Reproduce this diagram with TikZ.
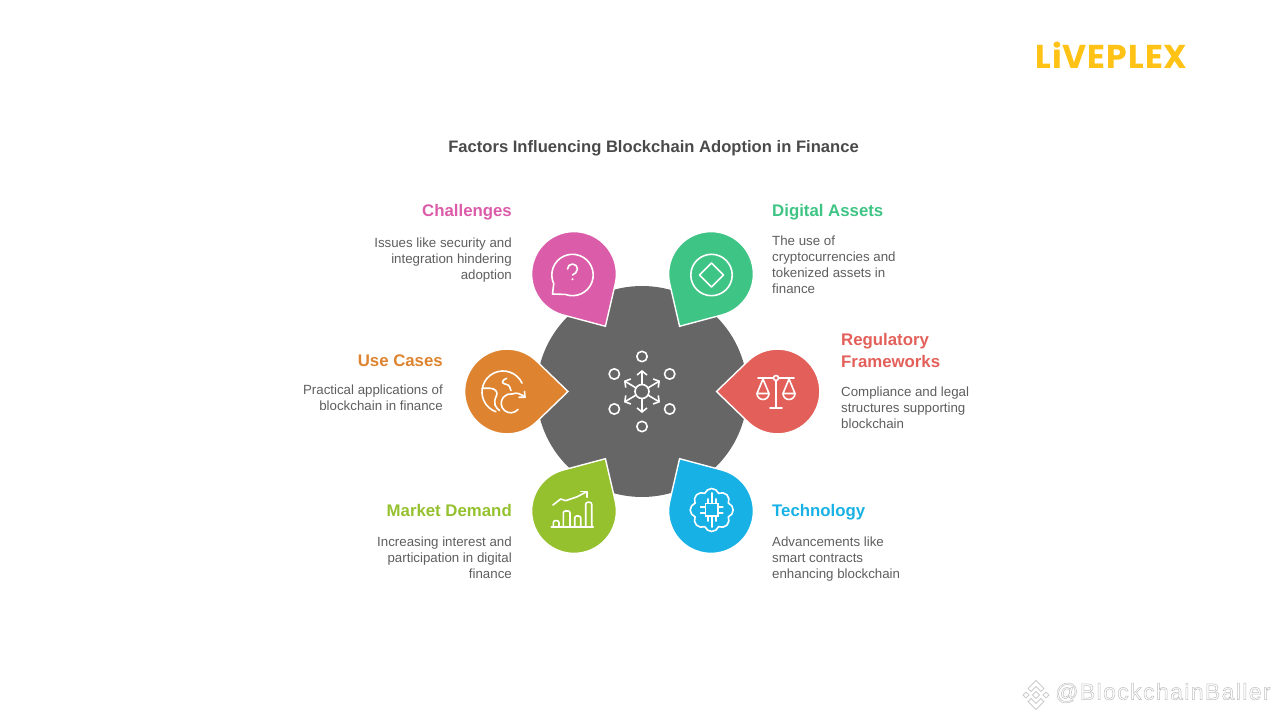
\documentclass[tikz,border=0pt]{standalone}
\usepackage{fontspec}
\setmainfont{Liberation Sans}
\newfontfamily\logofont[LetterSpace=3]{Poppins}
\newfontfamily\markfont[LetterSpace=6]{Liberation Sans}
\usepackage{xcolor}
\usepackage{tikz}
\usetikzlibrary{arrows.meta,positioning,shapes.symbols}
\definecolor{HubGray}{HTML}{666666}
\definecolor{TitleGray}{HTML}{4A4A4A}
\definecolor{BodyGray}{HTML}{5E5E5E}
\definecolor{ChalPink}{HTML}{DB5CA8}
\definecolor{AssetGreen}{HTML}{3EC484}
\definecolor{RegRed}{HTML}{E3605A}
\definecolor{TechBlue}{HTML}{17B1E5}
\definecolor{DemandLime}{HTML}{95C12F}
\definecolor{UseOrange}{HTML}{DE8430}
\definecolor{LogoYellow}{HTML}{FFC215}
\newcommand{\dropshape}[3]{\draw[white, line width=1.4pt, fill=#3, shift={#1}, rotate=#2]
  (46.5:42.4) -- (61,0) -- (-46.5:42.4) arc (-46.5:-313.5:42.4) -- cycle;}

\begin{document}
\begin{tikzpicture}[
    x=1pt, y=1pt,
    hdr/.style={font=\fontsize{16.8}{21.5}\selectfont\bfseries, inner sep=0pt},
    desc/.style={font=\fontsize{13.3}{16}\selectfont, text=BodyGray, inner sep=0pt},
    icon/.style={white, line width=1.6pt, line cap=round, line join=round},
    spoke/.style={icon, -{Straight Barb[length=4pt,width=10pt]}},
    markline/.style={draw=gray!40, fill=white, line width=0.8pt, line join=round},
  ]
    \useasboundingbox (0,0) rectangle (1280,720);

    % ---- title and logo ----
    \node[font=\fontsize{16.6}{20}\selectfont\bfseries, text=TitleGray, inner sep=0pt] (title) at (653.5,571.5)
      {Factors Influencing Blockchain Adoption in Finance};
    \node[font=\logofont\fontsize{33}{33}\selectfont\bfseries, text=LogoYellow, inner sep=0pt] (logo) at (1111.5,665) {LiVEPLEX};

    % ---- hub ----
    \node[circle, fill=HubGray, minimum size=211pt, inner sep=0pt] (hub) at (642,328.5) {};

    % ---- drops ----
    \dropshape{(574,446)}{-59}{ChalPink}
    \dropshape{(711,446)}{-121}{AssetGreen}
    \dropshape{(777.5,328.5)}{180}{RegRed}
    \dropshape{(711,209)}{121}{TechBlue}
    \dropshape{(574,209)}{59}{DemandLime}
    \dropshape{(507,328.5)}{0}{UseOrange}

    % ---- hub icon ----
    \begin{scope}[shift={(hub.center)}]
      \draw[icon] (0,0) circle (7);
      \draw[icon] (0,35) circle (5.2);
      \draw[icon] (27.7,17.5) circle (5.2);
      \draw[icon] (-27.7,17.5) circle (5.2);
      \draw[icon] (-27.7,-17.5) circle (5.2);
      \draw[icon] (0,-35) circle (5.2);
      \draw[icon] (27.7,-17.5) circle (5.2);
      \draw[spoke] (90:7) -- (90:21.5);
      \draw[spoke] (31:7) -- (31:21);
      \draw[spoke] (149:7) -- (149:21);
      \draw[spoke] (211:7) -- (211:21);
      \draw[spoke] (270:7) -- (270:21.5);
      \draw[spoke] (329:7) -- (329:21);
    \end{scope}

    % ---- challenges icon ----
    \begin{scope}[shift={(572.5,445)}]
      \draw[icon] (250:20.7) arc (250:565:20.7) -- (-20,-19) -- cycle;
      \draw[icon] (-5,6) arc (180:-50:5) -- (0,0);
      \fill[white] (0,-4.2) circle (1.1);
    \end{scope}

    % ---- digital assets icon ----
    \begin{scope}[shift={(711.5,445)}]
      \draw[icon] (0,0) circle (20.7);
      \draw[icon] (0,12) -- (12,0) -- (0,-12) -- (-12,0) -- cycle;
    \end{scope}

    % ---- regulatory icon ----
    \begin{scope}[shift={(776,328)}]
      \draw[icon] (0,11.5) -- (0,-16);
      \draw[icon] (-6,-16) -- (6,-16);
      \draw[icon] (-18,14) -- (-2.5,14);
      \draw[icon] (2.5,14) -- (18,14);
      \draw[icon] (0,14) circle (2.5);
      \draw[icon] (-13,13) -- (-19,-1.5) -- (-7,-1.5) -- cycle;
      \draw[icon] (-19,-1.5) arc (180:360:6);
      \draw[icon] (13,13) -- (7,-1.5) -- (19,-1.5) -- cycle;
      \draw[icon] (7,-1.5) arc (180:360:6);
    \end{scope}

    % ---- technology icon ----
    \node[cloud, cloud puffs=8, cloud puff arc=140, aspect=1, shape border rotate=22.5, draw=white, line width=1.6pt,
      minimum width=43pt, minimum height=43pt, inner sep=0pt] (brain) at (711.7,210) {};
    \node[rectangle, draw=white, line width=1.6pt, minimum size=12.6pt, inner sep=0pt] (chip) at (brain.center) {};
    \draw[icon] (chip.north) -- ++(0,10);
    \draw[icon] ([xshift=-4pt]chip.north) -- ++(0,4);
    \draw[icon] ([xshift=4pt]chip.north) -- ++(0,4);
    \draw[icon] (chip.south) -- ++(0,-10);
    \draw[icon] ([xshift=-4pt]chip.south) -- ++(0,-4);
    \draw[icon] ([xshift=4pt]chip.south) -- ++(0,-4);
    \draw[icon] ([yshift=3pt]chip.west) -- ++(-4,0);
    \draw[icon] ([yshift=-3pt]chip.west) -- ++(-4,0);
    \draw[icon] ([yshift=3pt]chip.east) -- ++(4,0);
    \draw[icon] ([yshift=-3pt]chip.east) -- ++(4,0);

    % ---- market demand icon ----
    \begin{scope}[shift={(574,205)}, rounded corners=2pt]
      \draw[icon] (-22.7,-12.3) -- (19.3,-12.3);
      \draw[icon] (-20.7,-12.3) -- (-20.7,-5.7) -- (-15,-5.7) -- (-15,-12.3);
      \draw[icon] (-10.7,-12.3) -- (-10.7,4) -- (-4,4) -- (-4,-12.3);
      \draw[icon] (0.7,-12.3) -- (0.7,-1) -- (6.7,-1) -- (6.7,-12.3);
      \draw[icon] (11.7,-12.3) -- (11.7,12.7) -- (17.7,12.7) -- (17.7,-12.3);
    \end{scope}
    \begin{scope}[shift={(574,205)}]
      \draw[icon] (-21,10) -- (-13.3,16) -- (-8.3,14.3) -- (3.3,18.3) -- (12.7,23.3);
      \draw[icon] (6.7,23.3) -- (12.7,23.3) -- (12.7,17.7);
    \end{scope}

    % ---- use cases icon ----
    \begin{scope}[shift={(503,328)}]
      \draw[icon] (25:21) arc (25:250:21);
      \draw[icon] (7.7,-11.3) ++(-40:9.5) arc (-40:-280:9.5) .. controls (14,0) and (18,-2) .. (22,-5.3);
      \draw[icon] (16,-5.3) -- (22,-5.3) -- (21.5,0.5);
      \draw[icon] (-20.7,3.7) -- (-13,3.7) .. controls (-8,3.7) and (-5,0) .. (-6.3,-3) .. controls (-8,-7) and (-9,-10) .. (-8,-13) .. controls (-7,-16) and (-5,-17) .. (-3.5,-18.5);
      \draw[icon] (3.7,13.7) .. controls (-1,12) and (-2,8.7) .. (2,8) .. controls (7,7.5) and (7,4) .. (8,1.5);
    \end{scope}

    % ---- labels ----
    \node[hdr, text=ChalPink, anchor=east] (chalhdr) at (512,507.5) {Challenges};
    \node[desc, align=right, anchor=east] (chaltxt) at (512,459.5) {Issues like security and\\integration hindering\\adoption};
    \node[hdr, text=AssetGreen, anchor=west] (assethdr) at (772,507.5) {Digital Assets};
    \node[desc, align=left, anchor=west] (assettxt) at (772,455.5) {The use of\\cryptocurrencies and\\tokenized assets in\\finance};
    \node[hdr, text=RegRed, align=left, anchor=west] (reghdr) at (841,369.5) {Regulatory\\Frameworks};
    \node[desc, align=left, anchor=west] (regtxt) at (841,312.5) {Compliance and legal\\structures supporting\\blockchain};
    \node[hdr, text=UseOrange, anchor=east] (usehdr) at (443,359.5) {Use Cases};
    \node[desc, align=right, anchor=east] (usetxt) at (443,322.5) {Practical applications of\\blockchain in finance};
    \node[hdr, text=DemandLime, anchor=east] (demandhdr) at (512,210) {Market Demand};
    \node[desc, align=right, anchor=east] (demandtxt) at (512,162.5) {Increasing interest and\\participation in digital\\finance};
    \node[hdr, text=TechBlue, anchor=west] (techhdr) at (772,208) {Technology};
    \node[desc, align=left, anchor=west] (techtxt) at (772,160.5) {Advancements like\\smart contracts\\enhancing blockchain};

    % ---- watermark ----
    \begin{scope}[shift={(1036,25)}]
      \draw[markline] (0,14.5) -- (8,6.5) -- (5,3.5) -- (0,8.5) -- (-5,3.5) -- (-8,6.5) -- cycle;
      \draw[markline] (0,-14.5) -- (8,-6.5) -- (5,-3.5) -- (0,-8.5) -- (-5,-3.5) -- (-8,-6.5) -- cycle;
      \draw[markline] (-13,0) -- (-10,3) -- (-7,0) -- (-10,-3) -- cycle;
      \draw[markline] (13,0) -- (10,3) -- (7,0) -- (10,-3) -- cycle;
      \draw[markline] (0,3.5) -- (3.5,0) -- (0,-3.5) -- (-3.5,0) -- cycle;
    \end{scope}
    \node[font=\markfont\fontsize{23}{23}\selectfont, text=gray!45, anchor=west, inner sep=0pt] (mark) at (1055,27)
      {\special{pdf:code 1 Tr 0.5 w 0.75 G}@BlockchainBaller\special{pdf:code 0 Tr 0 G}};
\end{tikzpicture}
\end{document}
